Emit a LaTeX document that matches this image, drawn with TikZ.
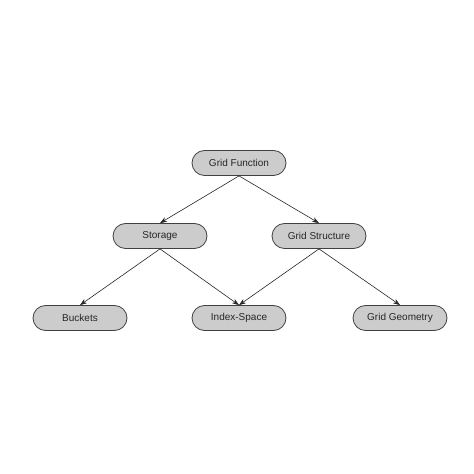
\documentclass[tikz,border=0pt]{standalone}
\usepackage{fontspec}
\setmainfont{Liberation Sans}
\usetikzlibrary{arrows.meta}
\tikzset{
	module/.style={draw=black!75, fill=black!20, thick, rounded corners=12.5pt,
		minimum width=94pt, minimum height=25pt, inner sep=0pt, text=black!85,
		font=\fontsize{10}{12}\selectfont},
	uses/.style={-{Stealth[length=7pt, width=5pt]}, black!85, semithick}
}
\begin{document}
\begin{tikzpicture}[x=1pt, y=1pt]
			% page
			\useasboundingbox[fill=white] (0,0) rectangle (474,474);

			% modules
			\node[module] (gridfunction) at (239,311) {Grid Function};
			\node[module] (storage) at (160,238) {Storage};
			\node[module] (gridstructure) at (319,238) {Grid Structure};
			\node[module] (buckets) at (80,156) {Buckets};
			\node[module] (indexspace) at (239,156) {Index-Space};
			\node[module] (gridgeometry) at (400,156) {Grid Geometry};

			% dependencies
			\draw[uses] (gridfunction.south) -- (storage.north);
			\draw[uses] (gridfunction.south) -- (gridstructure.north);
			\draw[uses] (storage.south) -- (buckets.north);
			\draw[uses] (storage.south) -- (indexspace.north);
			\draw[uses] (gridstructure.south) -- (indexspace.north);
			\draw[uses] (gridstructure.south) -- (gridgeometry.north);
		\end{tikzpicture}
\end{document}
